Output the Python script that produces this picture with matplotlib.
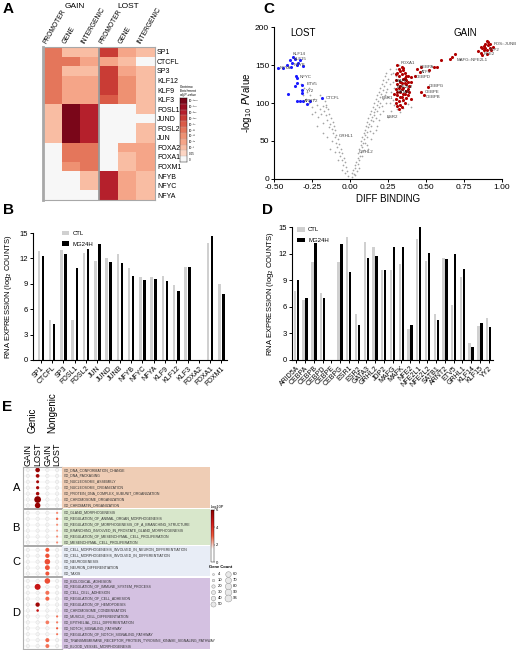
import numpy as np
import matplotlib
matplotlib.use("Agg")
from matplotlib import pyplot as plt
from matplotlib.colors import ListedColormap, BoundaryNorm, LinearSegmentedColormap
from matplotlib.patches import Rectangle
import matplotlib.cm as cm

plt.rcParams['font.family'] = ['Liberation Sans', 'DejaVu Sans']

# ---------------- A: motif enrichment heatmap ----------------
motifs = ["SP1", "CTCFL", "SP3", "KLF12", "KLF9", "KLF3", "FOSL1", "JUND",
          "FOSL2", "JUN", "FOXA2", "FOXA1", "FOXM1", "NFYB", "NFYC", "NFYA"]
regions = ["PROMOTER", "GENE", "INTERGENIC"]
# columns: GAIN promoter/gene/intergenic, LOST promoter/gene/intergenic (0 = n.s., 10 = strongest)
enrich_levels = [
    [5, 2, 2, 7, 3, 2],
    [5, 5, 3, 3, 2, 0],
    [5, 2, 2, 7, 3, 2],
    [5, 3, 3, 7, 4, 2],
    [5, 3, 3, 7, 4, 2],
    [5, 3, 3, 6, 4, 2],
    [2, 10, 8, 0, 0, 2],
    [2, 10, 8, 0, 0, 0],
    [2, 10, 8, 0, 0, 2],
    [2, 10, 8, 0, 0, 2],
    [0, 5, 5, 0, 3, 3],
    [0, 5, 5, 0, 2, 3],
    [0, 4, 5, 0, 2, 3],
    [0, 0, 2, 8, 3, 2],
    [0, 0, 2, 8, 3, 2],
    [0, 0, 0, 8, 3, 2],
]
level_labels = ["10⁻¹⁰⁰⁰", "10⁻⁵⁰⁰", "10⁻²⁰⁰", "10⁻¹⁰⁰", "10⁻⁵⁰",
                "10⁻²⁵", "10⁻¹⁵", "10⁻¹⁰", "10⁻⁵", "0.05", "0"]
level_colors = ['#f7f7f7', '#fcd5c3', '#f9bda3', '#f5a588', '#ee9172', '#e4765b',
                '#da5b47', '#c93c35', '#b5202c', '#9a0f22', '#7a0619']

# ---------------- B: RNA expression, motif TFs ----------------
b_genes = ["SP1", "CTCFL", "SP3", "FOSL1", "FOSL2", "JUN", "JUND", "JUNB", "NFYB",
           "NFYC", "NFYA", "KLF9", "KLF12", "KLF3", "FOXA2", "FOXA1", "FOXM1"]
b_ctl = [12.9, 4.7, 13.0, 4.7, 12.6, 11.7, 12.0, 12.5, 10.9, 9.8, 9.8, 9.9, 8.8, 11.0, 0, 13.8, 9.0]
b_mg = [12.3, 4.2, 12.5, 10.9, 13.1, 13.7, 11.6, 11.5, 9.9, 9.4, 9.6, 9.3, 8.1, 11.0, 0, 14.6, 7.8]

# ---------------- C: differential binding volcano ----------------
grey_pts = [
    (0.01, 3), (0.015, 8), (0.02, 12), (0.025, 6), (0.03, 18), (0.035, 14), (0.04, 22), (0.045, 10),
    (0.05, 28), (0.05, 20), (0.055, 34), (0.06, 25), (0.06, 40), (0.065, 30), (0.07, 45), (0.07, 36),
    (0.075, 50), (0.08, 42), (0.08, 55), (0.085, 48), (0.09, 60), (0.09, 52), (0.095, 38), (0.1, 65),
    (0.1, 58), (0.1, 47), (0.105, 70), (0.11, 62), (0.11, 75), (0.115, 55), (0.12, 68), (0.12, 80),
    (0.125, 72), (0.13, 85), (0.13, 63), (0.135, 78), (0.14, 90), (0.14, 70), (0.145, 82), (0.15, 95),
    (0.15, 76), (0.155, 88), (0.16, 100), (0.16, 84), (0.165, 92), (0.17, 105), (0.17, 80), (0.175, 97),
    (0.18, 110), (0.18, 90), (0.185, 102), (0.19, 115), (0.19, 95), (0.195, 108), (0.2, 120), (0.2, 100),
    (0.205, 112), (0.21, 125), (0.21, 96), (0.215, 117), (0.22, 130), (0.22, 105), (0.225, 122),
    (0.23, 135), (0.23, 110), (0.235, 127), (0.24, 140), (0.24, 100), (0.245, 118), (0.25, 132),
    (0.25, 108), (0.26, 125), (0.26, 145), (0.27, 115), (0.27, 138), (0.28, 104), (0.28, 128),
    (0.29, 120), (0.29, 98), (0.3, 112), (0.3, 135), (0.31, 92), (0.31, 105), (0.32, 97), (0.33, 88),
    (0.34, 102), (0.35, 94), (0.36, 107), (0.38, 99), (0.4, 95), (0.12, 40), (0.15, 60), (0.18, 70),
    (0.2, 85), (0.17, 65), (0.22, 90), (0.08, 30), (0.24, 115), (0.26, 100), (0.28, 140), (0.3, 145),
    (0.32, 150), (0.25, 82), (0.14, 52), (0.11, 45), (0.06, 15), (0.03, 5), (0.19, 78), (0.27, 90),
    (-0.01, 4), (-0.02, 10), (-0.025, 16), (-0.03, 8), (-0.035, 22), (-0.04, 28), (-0.045, 18),
    (-0.05, 34), (-0.055, 25), (-0.06, 40), (-0.065, 30), (-0.07, 46), (-0.075, 36), (-0.08, 52),
    (-0.085, 42), (-0.09, 58), (-0.095, 48), (-0.1, 64), (-0.1, 55), (-0.105, 70), (-0.11, 60),
    (-0.115, 75), (-0.12, 66), (-0.125, 80), (-0.13, 72), (-0.135, 86), (-0.14, 68), (-0.145, 92),
    (-0.15, 78), (-0.155, 97), (-0.16, 84), (-0.165, 102), (-0.17, 90), (-0.175, 74), (-0.18, 96),
    (-0.19, 85), (-0.2, 92), (-0.21, 82), (-0.22, 98), (-0.23, 88), (-0.24, 105), (-0.25, 95),
    (-0.26, 110), (-0.27, 100), (-0.28, 115), (-0.29, 105), (-0.3, 120), (-0.31, 110), (-0.32, 125),
    (-0.25, 85), (-0.22, 70), (-0.18, 60), (-0.15, 55), (-0.2, 110), (-0.27, 120), (-0.12, 50),
    (-0.08, 25), (-0.16, 95), (-0.05, 12), (-0.1, 35), (-0.13, 40),
]
lost_pts = [
    (-0.472, 146), (-0.395, 157), (-0.373, 161), (-0.329, 157), (-0.307, 149), (-0.351, 150),
    (-0.417, 150), (-0.439, 146), (-0.38, 153), (-0.36, 158), (-0.34, 152), (-0.39, 147),
    (-0.355, 136), (-0.347, 133), (-0.351, 126), (-0.362, 122), (-0.314, 124), (-0.318, 117),
    (-0.314, 113), (-0.406, 112), (-0.351, 102), (-0.33, 102), (-0.307, 102), (-0.286, 99),
    (-0.263, 102), (-0.186, 106),
]
gain_pts = [
    (0.30, 105), (0.31, 110), (0.32, 102), (0.33, 115), (0.34, 108), (0.35, 120), (0.36, 112),
    (0.37, 125), (0.38, 118), (0.30, 130), (0.31, 125), (0.32, 135), (0.33, 128), (0.34, 138),
    (0.35, 132), (0.36, 140), (0.37, 130), (0.38, 136), (0.39, 122), (0.40, 128), (0.30, 118),
    (0.31, 140), (0.32, 145), (0.33, 142), (0.34, 147), (0.35, 144), (0.29, 112), (0.30, 100),
    (0.31, 96), (0.32, 92), (0.33, 98), (0.34, 95), (0.35, 104), (0.36, 100), (0.37, 106),
    (0.38, 110), (0.39, 115), (0.40, 105), (0.33, 122), (0.34, 118), (0.35, 112), (0.36, 126),
    (0.37, 116), (0.32, 120), (0.31, 115), (0.36, 133), (0.34, 126), (0.33, 108), (0.38, 128),
    (0.30, 138), (0.31, 150), (0.35, 146), (0.44, 145), (0.46, 141), (0.47, 148), (0.52, 144),
    (0.55, 147), (0.57, 148), (0.40, 134), (0.43, 135), (0.37, 136), (0.51, 121), (0.47, 115),
    (0.49, 110), (0.60, 157), (0.66, 158), (0.67, 161), (0.69, 164), (0.84, 168), (0.86, 166),
    (0.87, 172), (0.88, 175), (0.89, 178), (0.90, 182), (0.91, 176), (0.92, 173), (0.93, 170),
    (0.90, 165), (0.88, 170), (0.86, 174), (0.89, 173), (0.91, 180), (0.94, 174), (0.87, 163),
    (0.90, 170), (0.92, 177),
]
volcano_labels = [
    ("KLF14", -0.377, 165), ("KLF15", -0.373, 158), ("NFYA", -0.46, 146), ("NFYB", -0.37, 150),
    ("NFYC", -0.329, 134), ("ETV5", -0.285, 125), ("YY2", -0.29, 116), ("ARNT2", -0.30, 102),
    ("CTCFL", -0.16, 106), ("GRHL1", -0.077, 56), ("GRHL2", 0.055, 35), ("ESR2", 0.24, 81),
    ("ESR1", 0.21, 106), ("MAFK", 0.30, 129), ("NFE2L2", 0.31, 121.5), ("GATA3", 0.31, 114),
    ("FOXA1", 0.33, 152), ("CEBPA", 0.46, 148), ("ATF4", 0.47, 141), ("CEBPD", 0.43, 134),
    ("CEBPG", 0.52, 122), ("CEBPE", 0.49, 115), ("CEBPB", 0.50, 108),
    ("MAFG::NFE2L1", 0.70, 157), ("NFE2", 0.877, 164), ("JDP2", 0.916, 170), ("FOS::JUNB", 0.943, 177),
]
dark_labels = ["MAFK", "NFE2L2", "GATA3"]

# ---------------- D: RNA expression, diff-binding TFs ----------------
d_genes = ["ARID5A", "CEBPA", "CEBPB", "CEBPD", "CEBPE", "CEBPG", "ESR1", "ESR2", "GATA3",
           "GRHL2", "JDP2", "MAFG", "MAFK", "NFE2", "NFE2L1", "NFE2L2", "SATB1", "ARNT2",
           "ETV5", "GRHL1", "KLF14", "KLF15", "YY2"]
d_ctl = [7.8, 6.8, 11.1, 7.6, 0, 11.0, 13.9, 5.2, 13.3, 12.7, 10.1, 10.1, 10.8, 3.5, 13.6,
         11.2, 5.2, 11.5, 6.2, 9.4, 1.9, 3.8, 4.7]
d_mg = [9.0, 7.0, 13.2, 7.0, 0, 13.1, 9.9, 3.9, 11.5, 11.7, 10.1, 12.8, 12.7, 3.9, 15.0,
        12.1, 4.5, 11.4, 11.9, 10.3, 1.5, 4.2, 3.7]

# ---------------- E: GO enrichment dot plot ----------------
go_groups = ["A", "B", "C", "D"]
go_terms = {
    "A": ["GO_DNA_CONFORMATION_CHANGE", "GO_DNA_PACKAGING", "GO_NUCLEOSOME_ASSEMBLY",
          "GO_NUCLEOSOME_ORGANIZATION", "GO_PROTEIN_DNA_COMPLEX_SUBUNIT_ORGANIZATION",
          "GO_CHROMOSOME_ORGANIZATION", "GO_CHROMATIN_ORGANIZATION"],
    "B": ["GO_GLAND_MORPHOGENESIS", "GO_REGULATION_OF_ANIMAL_ORGAN_MORPHOGENESIS",
          "GO_REGULATION_OF_MORPHOGENESIS_OF_A_BRANCHING_STRUCTURE",
          "GO_BRANCHING_INVOLVED_IN_PROSTATE_GLAND_MORPHOGENESIS",
          "GO_REGULATION_OF_MESENCHYMAL_CELL_PROLIFERATION", "GO_MESENCHYMAL_CELL_PROLIFERATION"],
    "C": ["GO_CELL_MORPHOGENESIS_INVOLVED_IN_NEURON_DIFFERENTIATION",
          "GO_CELL_MORPHOGENESIS_INVOLVED_IN_DIFFERENTIATION", "GO_NEUROGENESIS",
          "GO_NEURON_DIFFERENTIATION", "GO_TAXIS"],
    "D": ["GO_BIOLOGICAL_ADHESION", "GO_REGULATION_OF_IMMUNE_SYSTEM_PROCESS", "GO_CELL_CELL_ADHESION",
          "GO_REGULATION_OF_CELL_ADHESION", "GO_REGULATION_OF_HEMOPOIESIS", "GO_CHROMOSOME_CONDENSATION",
          "GO_MUSCLE_CELL_DIFFERENTIATION", "GO_EPITHELIAL_CELL_DIFFERENTIATION",
          "GO_NOTCH_SIGNALING_PATHWAY", "GO_REGULATION_OF_NOTCH_SIGNALING_PATHWAY",
          "GO_TRANSMEMBRANE_RECEPTOR_PROTEIN_TYROSINE_KINASE_SIGNALING_PATHWAY",
          "GO_BLOOD_VESSEL_MORPHOGENESIS"],
}
group_colors = {"A": "#efcdb5", "B": "#d8e7cb", "C": "#e8edf6", "D": "#d4c1e1"}
go_columns = ["GAIN", "LOST", "GAIN", "LOST"]
# -log10 P per column (0 = not enriched), rows in the order above
go_logp = [
    [0] * 30,
    [5.8, 5.5, 5.5, 5.5, 5.5, 6.0, 5.8] + [0] * 6 + [0] * 5 + [0, 4.8, 0, 0, 5.6, 4.8, 0, 0, 0, 0, 0, 0],
    [0] * 7 + [0] * 6 + [3.0, 3.2, 3.3, 3.2, 3.1] + [3.3, 0, 2.8, 2.9, 0, 0, 0, 2.7, 0, 0, 2.9, 2.8],
    [0] * 7 + [2.6, 2.9, 2.6, 2.5, 2.6, 2.6] + [0] * 5 + [0, 0, 0, 0, 0, 0, 2.8, 2.7, 3.0, 2.8, 0, 0],
]
go_count = [
    [0] * 30,
    [40, 25, 15, 18, 22, 90, 60] + [0] * 6 + [0] * 5 + [0, 70, 0, 0, 35, 10, 0, 0, 0, 0, 0, 0],
    [0] * 7 + [0] * 6 + [30, 35, 60, 45, 30] + [60, 0, 30, 30, 0, 0, 0, 25, 0, 0, 30, 28],
    [0] * 7 + [6, 8, 5, 4, 5, 5] + [0] * 5 + [0, 0, 0, 0, 0, 0, 6, 6, 6, 5, 0, 0],
]
count_legend = [4, 10, 20, 30, 40, 50, 60, 70, 80, 90, 96]

# =====================================================================
fig = plt.figure(figsize=(5.2, 6.5), dpi=100)
W, H = 520, 650


def add_ax(x0, y0, x1, y1):
    return fig.add_axes([x0 / W, 1 - y1 / H, (x1 - x0) / W, (y1 - y0) / H])


def letter(x, y, s):
    fig.text(x / W, 1 - y / H, s, fontsize=11, fontweight='bold', va='top', ha='left')


def style_axes(ax, fs=5.5):
    ax.spines['top'].set_visible(False)
    ax.spines['right'].set_visible(False)
    for sp in ('left', 'bottom'):
        ax.spines[sp].set_linewidth(0.8)
    ax.tick_params(labelsize=fs, width=0.7, length=2, pad=1.5)


letter(3, 2, "A")
letter(3, 203, "B")
letter(263, 2, "C")
letter(262, 203, "D")
letter(2, 400, "E")

# ---- A ----
heat_cmap = ListedColormap(level_colors)
heat_norm = BoundaryNorm(np.arange(-0.5, 11, 1), 11)
ax = add_ax(43, 47, 155, 200)
ax.imshow(np.array(enrich_levels), cmap=heat_cmap, norm=heat_norm, aspect='auto',
          interpolation='nearest')
ax.set_xticks([])
ax.set_yticks(range(len(motifs)))
ax.set_yticklabels(motifs, fontsize=5)
ax.yaxis.tick_right()
ax.tick_params(axis='y', length=0, pad=1.5)
for sp in ax.spines.values():
    sp.set_color('#a8a8a8')
    sp.set_linewidth(0.8)
ax.spines['left'].set_linewidth(2)
ax.axvline(2.5, color='#9a9a9a', lw=1.3)
for j, name in enumerate(regions + regions):
    ax.text(j - 0.2, -0.7, name, rotation=60, rotation_mode='anchor', ha='left', va='bottom',
            fontsize=4.8)
fig.text(75 / W, 1 - 6 / H, "GAIN", fontsize=6, ha='center', va='center')
fig.text(128 / W, 1 - 6 / H, "LOST", fontsize=6, ha='center', va='center')

lax = add_ax(180, 98, 187, 162)
lax.imshow(np.arange(10, -1, -1).reshape(-1, 1), cmap=heat_cmap, norm=heat_norm, aspect='auto')
lax.set_xticks([])
lax.set_yticks(range(11))
lax.set_yticklabels(level_labels, fontsize=2.2, family=['Liberation Sans', 'DejaVu Sans'])
lax.yaxis.tick_right()
lax.tick_params(axis='y', length=0, pad=1)
for k in range(10):
    lax.axhline(k + 0.5, color='#b0b0b0', lw=0.25)
for sp in lax.spines.values():
    sp.set_linewidth(0.3)
lax.set_title("Centrimo\nEnrichment\nadj.P-value", fontsize=2.4, pad=1.5, loc='left',
              linespacing=1.0)

# ---- B ----
ax = add_ax(33, 233, 227, 360)
xb = np.arange(len(b_genes))
ax.bar(xb - 0.18, b_ctl, width=0.22, color='#d0d0d0', label='CTL')
ax.bar(xb + 0.18, b_mg, width=0.22, color='black', label='MG24H')
ax.set_xlim(-0.7, len(b_genes) - 0.5)
ax.set_ylim(0, 15)
ax.set_yticks(range(0, 16, 3))
ax.set_xticks(xb)
ax.set_xticklabels(b_genes, rotation=45, ha='right', rotation_mode='anchor')
style_axes(ax)
ax.tick_params(axis='x', labelsize=5)
ax.set_ylabel('RNA EXPRESSION (log$_2$ COUNTS)', fontsize=5.5, labelpad=4)
ax.legend(loc='upper left', bbox_to_anchor=(0.12, 1.06), frameon=False, fontsize=4.3,
          handlelength=1.2, handleheight=0.8, labelspacing=0.9, handletextpad=0.6)

# ---- C ----
ax = add_ax(274, 27, 502, 179)
gp = np.array(grey_pts)
ax.scatter(gp[:, 0], gp[:, 1], s=1.5, color='#a3a3a3', lw=0)
lp = np.array(lost_pts)
ax.scatter(lp[:, 0], lp[:, 1], s=5, color='#1a1aff', lw=0)
rp = np.array(gain_pts)
ax.scatter(rp[:, 0], rp[:, 1], s=5, color='#b00000', lw=0)
for name, lx, ly in volcano_labels:
    ax.text(lx, ly, name, fontsize=3.2, va='center', ha='left',
            color='#111111' if name in dark_labels else '#444444')
ax.text(-0.31, 192, "LOST", fontsize=7, ha='center', va='center')
ax.text(0.757, 192, "GAIN", fontsize=7, ha='center', va='center')
ax.set_xlim(-0.5, 1.0)
ax.set_ylim(0, 200)
ax.set_xticks([-0.5, -0.25, 0, 0.25, 0.5, 0.75, 1.0])
ax.set_xticklabels(["-0.50", "-0.25", "0.00", "0.25", "0.50", "0.75", "1.00"])
ax.set_yticks([0, 50, 100, 150, 200])
style_axes(ax, fs=6)
ax.set_xlabel("DIFF BINDING", fontsize=7, labelpad=2)
ax.set_ylabel("-log$_{10}$ $\\it{P}$Value", fontsize=7, labelpad=1)

# ---- D ----
ax = add_ax(292, 227, 493, 360)
xd = np.arange(len(d_genes))
ax.bar(xd - 0.17, d_ctl, width=0.27, color='#d0d0d0', label='CTL')
ax.bar(xd + 0.17, d_mg, width=0.27, color='black', label='MG24H')
ax.set_xlim(-0.5, len(d_genes) - 0.5)
ax.set_ylim(0, 15)
ax.set_yticks(range(0, 16, 3))
ax.set_xticks(xd)
ax.set_xticklabels(d_genes, rotation=45, ha='right', rotation_mode='anchor')
style_axes(ax)
ax.tick_params(axis='x', labelsize=5)
ax.set_ylabel('RNA EXPRESSION (log$_2$ COUNTS)', fontsize=5.5, labelpad=2)
ax.legend(loc='upper left', bbox_to_anchor=(0.0, 1.04), frameon=False, fontsize=4.3,
          handlelength=1.2, handleheight=0.8, labelspacing=0.9, handletextpad=0.6)

# ---- E ----
gap = 0.25
row_y = []
group_span = []
for g_i, g in enumerate(go_groups):
    start = len(row_y)
    for k in range(len(go_terms[g])):
        row_y.append(start + k + gap * g_i)
    group_span.append((row_y[start] - 0.5, row_y[-1] + 0.5))
row_y = np.array(row_y)
all_terms = [t for g in go_groups for t in go_terms[g]]
ylim = (row_y[-1] + 0.5, -0.5)

go_cmap = LinearSegmentedColormap.from_list(
    "gop", [(0, '#ffffff'), (0.25, '#ffffff'), (0.4, '#f9a08a'), (0.5, '#f25a3c'),
            (0.75, '#d41a1a'), (1.0, '#8e0000')])
go_norm = matplotlib.colors.Normalize(0, 6)
dot_scale = 0.25

ax = add_ax(23, 467, 62, 649)
ax.set_xlim(-0.5, 3.5)
ax.set_ylim(*ylim)
for c in range(4):
    ax.axvline(c, color='#e3e3e3', lw=0.3, zorder=0)
for y in row_y:
    ax.axhline(y, color='#e3e3e3', lw=0.3, zorder=0)
for c in range(4):
    lp_c = np.array(go_logp[c])
    n_c = np.array(go_count[c])
    empty = n_c == 0
    ax.scatter(np.full(empty.sum(), c), row_y[empty], s=6, facecolor='none',
               edgecolor='#d6d6d6', lw=0.3, zorder=1)
    hit = ~empty
    ax.scatter(np.full(hit.sum(), c), row_y[hit], s=n_c[hit] * dot_scale + 1, c=lp_c[hit],
               cmap=go_cmap, norm=go_norm, lw=0, zorder=2)
for lo, hi in group_span[1:]:
    ax.axhline(lo - gap / 2, color='#9a9a9a', lw=1.2)
ax.set_xticks([])
ax.set_yticks([])
for sp in ax.spines.values():
    sp.set_color('#b0b0b0')
    sp.set_linewidth(0.8)
for (lo, hi), g in zip(group_span, go_groups):
    ax.text(-1.2, (lo + hi) / 2, g, fontsize=8, ha='center', va='center')

col_px = [28, 38, 48, 57]
for c, name in enumerate(go_columns):
    fig.text(col_px[c] / W, 1 - 466 / H, name, rotation=90, fontsize=6.5, ha='center', va='bottom')
fig.text(33 / W, 1 - 433 / H, "Genic", rotation=90, fontsize=7, ha='center', va='bottom')
fig.text(52 / W, 1 - 433 / H, "Nongenic", rotation=90, fontsize=7, ha='center', va='bottom')

tax = add_ax(62, 467, 210, 649)
tax.set_xlim(0, 1)
tax.set_ylim(*ylim)
tax.axis('off')
for (lo, hi), g in zip(group_span, go_groups):
    tax.add_patch(Rectangle((0, lo - gap * 0.3), 1, hi - lo + gap * 0.6 - 0.12,
                            color=group_colors[g], lw=0))
for y, t in zip(row_y, all_terms):
    tax.text(0.015, y, t, fontsize=2.5, va='center', ha='left', color='#333333')

cax = add_ax(211, 510, 214, 562)
cb = fig.colorbar(cm.ScalarMappable(norm=go_norm, cmap=go_cmap), cax=cax, ticks=[0, 2, 4, 6])
cb.outline.set_linewidth(0.3)
cax.tick_params(labelsize=3, length=1, width=0.3, pad=0.5)
cax.set_title("-log10P", fontsize=2.8, pad=1.5, loc='left')

gax = add_ax(207, 564, 245, 612)
gax.set_xlim(0, 1)
gax.set_ylim(7.2, -0.8)
gax.axis('off')
gax.text(0.05, -0.3, "Gene Count", fontsize=3, fontweight='bold', va='center')
for i, n in enumerate(count_legend):
    col, row = divmod(i, 6)
    gx = 0.17 + col * 0.38
    gy = 0.8 + row
    gax.scatter(gx, gy, s=n * dot_scale + 1, facecolor='#e8e8e8', edgecolor='#888888', lw=0.3)
    gax.text(gx + 0.12, gy, str(n), fontsize=3, va='center')

fig.savefig("out.png", dpi=100)
